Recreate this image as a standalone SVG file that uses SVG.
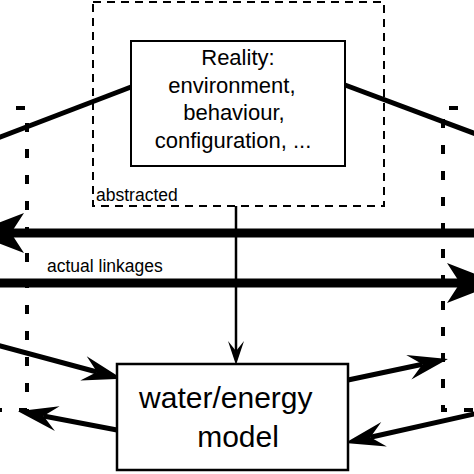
<svg xmlns="http://www.w3.org/2000/svg" width="474" height="474" viewBox="0 0 474 474">
<style>
.box{fill:#fff;stroke:#000;}
.dashA{fill:none;stroke:#000;stroke-width:2;stroke-dasharray:8 6;}
.dashB{fill:none;stroke:#000;stroke-width:4;stroke-dasharray:9 17;}
.t{font-family:"Liberation Sans",Arial,sans-serif;fill:#000;}
.line{fill:none;stroke:#000;}
</style>
<defs>
<marker id="big" markerUnits="userSpaceOnUse" viewBox="-54 -22 56 44" markerWidth="56" markerHeight="44" refX="-39" refY="0" orient="auto">
<path d="M0,0 L-52,-20 L-39,0 L-52,20 Z" fill="#000"/>
</marker>
<marker id="mid" markerUnits="userSpaceOnUse" viewBox="-42 -14 44 28" markerWidth="44" markerHeight="28" refX="-26" refY="0" orient="auto">
<path d="M0,0 L-40,-12.5 L-26,0 L-40,12.5 Z" fill="#000"/>
</marker>
<marker id="small" markerUnits="userSpaceOnUse" viewBox="-26 -10 28 20" markerWidth="28" markerHeight="20" refX="-14" refY="0" orient="auto">
<path d="M0,0 L-24,-8 L-14,0 L-24,8 Z" fill="#000"/>
</marker>
</defs>

<g id="abstracted">
<rect class="dashA" x="93" y="2" width="291" height="204"/>
<text class="t" x="96" y="201" font-size="17.5">abstracted</text>
</g>
<g id="left-system">
<path class="dashB" d="M-10,108 H27 V410 H-10"/>
</g>
<g id="right-system">
<path class="dashB" d="M484,108 H443 V410 H484"/>
</g>

<g id="connectors">
<path class="line" stroke-width="5" d="M131,87 L-5,139"/>
<path class="line" stroke-width="5" d="M345,85 L480,135.5"/>
<path class="line" stroke-width="9" d="M480,233 L11,233" marker-end="url(#big)"/>
<path class="line" stroke-width="9" d="M-5,283 L460,283" marker-end="url(#big)"/>
<path class="line" stroke-width="2.5" d="M236,206 L236,351" marker-end="url(#small)"/>
<path class="line" stroke-width="5" d="M-5,344.6 L97,372" marker-end="url(#mid)"/>
<path class="line" stroke-width="5" d="M117,430 L43.5,416" marker-end="url(#mid)"/>
<path class="line" stroke-width="5" d="M348,380 L422.5,364.3" marker-end="url(#mid)"/>
<path class="line" stroke-width="5" d="M480,412.6 L370.4,437.3" marker-end="url(#mid)"/>
<text class="t" x="47" y="272" font-size="17.5">actual linkages</text>
</g>

<g id="reality">
<rect class="box" stroke-width="2" x="131" y="41" width="214" height="125"/>
<text class="t" font-size="22" text-anchor="middle">
<tspan x="241" y="65">Reality:</tspan>
<tspan x="235" y="93">environment,</tspan>
<tspan x="237" y="120">behaviour,</tspan>
<tspan x="233" y="148">configuration, ...</tspan>
</text>
</g>

<g id="model">
<rect class="box" stroke-width="2.5" x="117" y="364" width="231" height="106"/>
<text class="t" font-size="30" text-anchor="middle">
<tspan x="230" y="408">water/energy</tspan>
<tspan x="238" y="447">model</tspan>
</text>
</g>
</svg>
